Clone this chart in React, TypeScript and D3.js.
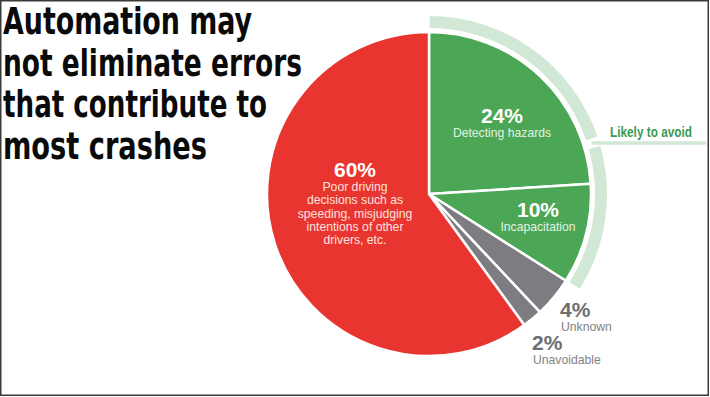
import React from "react";
import * as d3 from "d3";

const titleLines = ["Automation may", "not eliminate errors", "that contribute to", "most crashes"];
const categories = ["Detecting hazards", "Incapacitation", "Unknown", "Unavoidable", "Poor driving"];
const values = [24, 10, 4, 2, 60];
const sliceColors = ["#4ba655", "#4ba655", "#7d7d81", "#7d7d81", "#e8352f"];
const descLines = [
  ["Detecting hazards"],
  ["Incapacitation"],
  ["Unknown"],
  ["Unavoidable"],
  ["Poor driving", "decisions such as", "speeding, misjudging", "intentions of other", "drivers, etc."],
];
const avoidLabel = "Likely to avoid";
const avoidCount = 2; // first two categories are "likely to avoid"

const W = 710;
const H = 397;
const CX = 429;
const CY = 194;
const R = 162;

// text layout (anchor x, baseline of percent)
const labelLayout = [
  { x: 502, y: 123, anchor: "middle", inside: true },
  { x: 538, y: 217, anchor: "middle", inside: true },
  { x: 560, y: 317, anchor: "start", inside: false },
  { x: 532, y: 350, anchor: "start", inside: false },
  { x: 355, y: 177, anchor: "middle", inside: true },
];

export default function App() {
  const pie = d3
    .pie<number>()
    .sort(null)
    .value((d) => d)
    .startAngle(0)
    .endAngle(2 * Math.PI);
  const arcs = pie(values);
  const arcGen = d3.arc<d3.PieArcDatum<number>>().innerRadius(0).outerRadius(R);

  const bandInner = 166;
  const bandOuter = 178;
  const bandEnd = arcs[avoidCount - 1].endAngle;
  const lineY = 143;
  const rMid = (bandInner + bandOuter) / 2;
  const lineAngle = Math.acos((CY - lineY) / rMid);
  const gap = (1.6 * Math.PI) / 180;
  const bandArc = d3.arc().innerRadius(bandInner).outerRadius(bandOuter);
  const bandA = bandArc({ innerRadius: bandInner, outerRadius: bandOuter, startAngle: 0.004, endAngle: lineAngle - gap } as any) as string;
  const bandB = bandArc({ innerRadius: bandInner, outerRadius: bandOuter, startAngle: lineAngle + gap, endAngle: bandEnd - 0.005 } as any) as string;
  const lineX0 = CX + rMid * Math.sin(lineAngle);

  const fmt = (v: number) => `${v}%`;

  return (
    <svg
      width={W}
      height={H}
      viewBox={`0 0 ${W} ${H}`}
      style={{ position: "absolute", left: 0, top: 0, display: "block", background: "#fff" }}
    >
      <rect x={0} y={0} width={W} height={H} fill="#fff" />
      {titleLines.map((t, i) => (
        <text
          key={t}
          x={3}
          y={34 + i * 41.7}
          fontFamily="'Liberation Sans Narrow', 'DejaVu Sans Condensed', 'Liberation Sans', sans-serif"
          fontWeight={700}
          fontSize={38}
          fill="#0a0a0a"
          textLength={[249, 299, 264, 204][i]}
          lengthAdjust="spacingAndGlyphs"
        >
          {t}
        </text>
      ))}

      <g transform={`translate(${CX},${CY})`}>
        <path d={bandA} fill="#d1e8d6" />
        <path d={bandB} fill="#d1e8d6" />
        {arcs.map((a, i) => (
          <path key={categories[i]} d={arcGen(a) as string} fill={sliceColors[i]} stroke="#fff" strokeWidth={2.5} strokeLinejoin="round" />
        ))}
      </g>
      <line x1={lineX0} x2={705} y1={lineY} y2={lineY} stroke="#d1e8d6" strokeWidth={3.5} strokeLinecap="round" />
      <text
        x={610}
        y={137}
        fontFamily="'Liberation Sans Narrow', 'Liberation Sans', sans-serif"
        fontWeight={700}
        fontSize={14}
        fill="#3a9a53"
        textLength={82}
        lengthAdjust="spacingAndGlyphs"
      >
        {avoidLabel}
      </text>

      {values.map((v, i) => {
        const L = labelLayout[i];
        const pctFill = L.inside ? "#ffffff" : "#6d6e71";
        const descFill = L.inside ? (i === 4 ? "#fde2df" : "#e2f2e4") : "#808285";
        return (
          <g key={categories[i]}>
            <text
              x={L.x}
              y={L.y}
              textAnchor={L.anchor as any}
              fontFamily="'Liberation Sans', Arial, sans-serif"
              fontWeight={700}
              fontSize={21}
              fill={pctFill}
            >
              {fmt(v)}
            </text>
            {descLines[i].map((ln, j) => (
              <text
                key={ln}
                x={L.x + (L.inside ? 0 : 1)}
                y={L.y + 14 + j * 13.3}
                textAnchor={L.anchor as any}
                fontFamily="'Liberation Sans', Arial, sans-serif"
                fontSize={12.2}
                fill={descFill}
              >
                {ln}
              </text>
            ))}
          </g>
        );
      })}

      <rect x={0.75} y={0.75} width={W - 2.5} height={H - 2.5} fill="none" stroke="#3a3a3a" strokeWidth={1.5} />
    </svg>
  );
}
